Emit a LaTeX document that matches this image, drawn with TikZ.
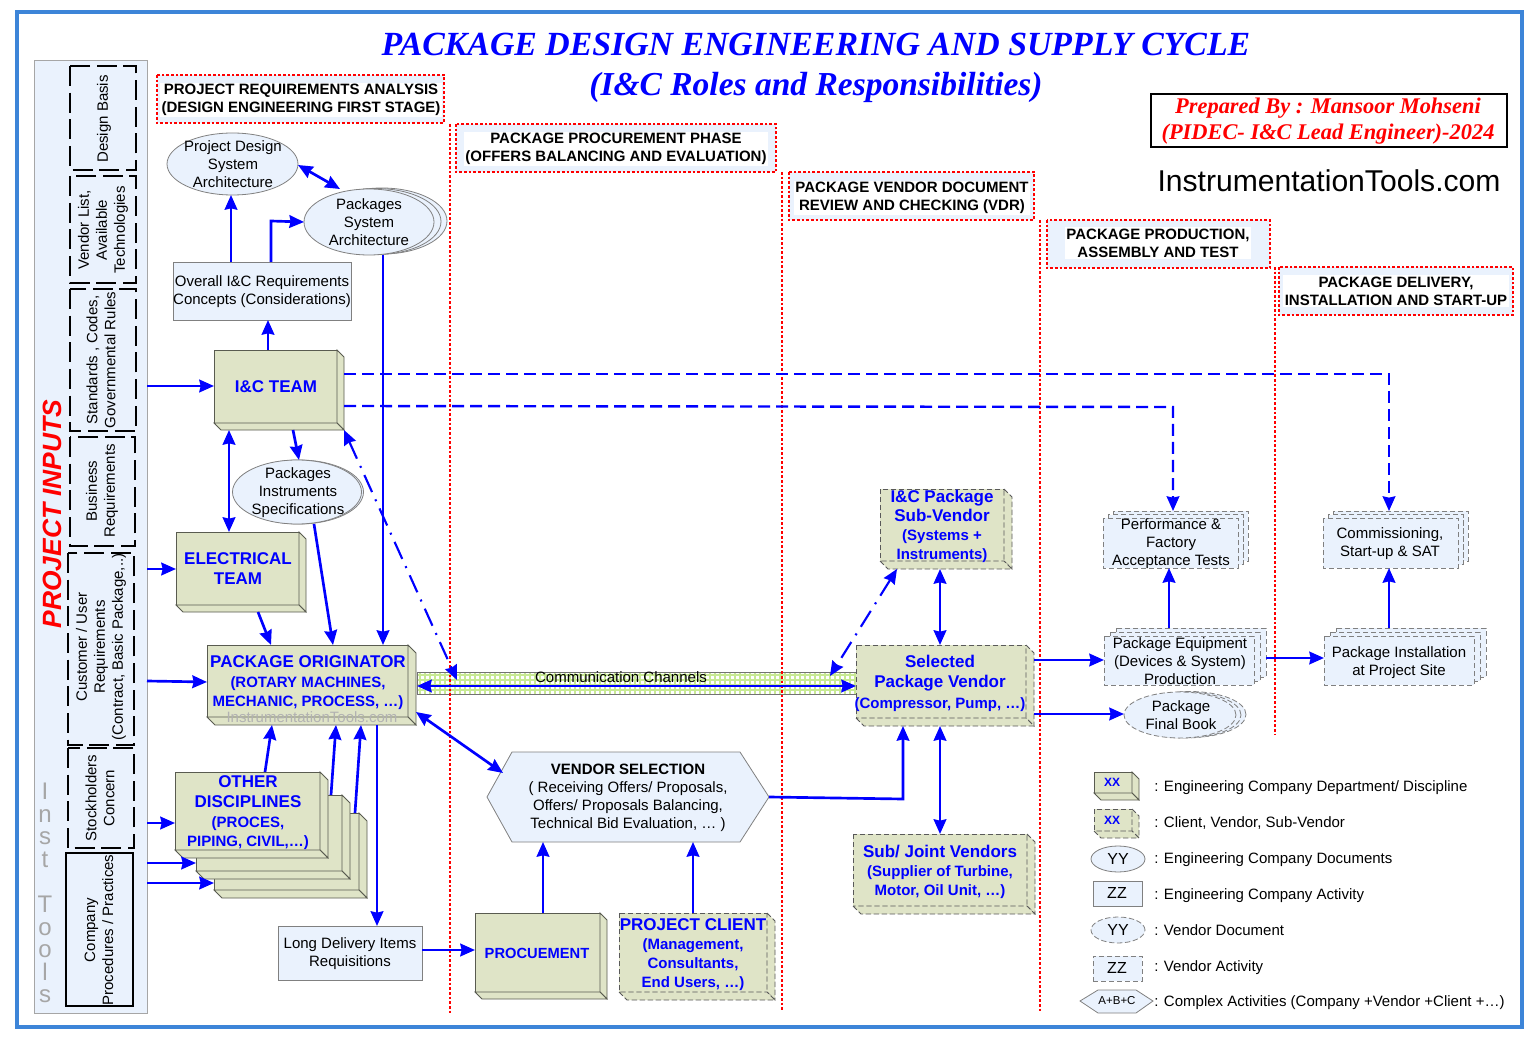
\documentclass[tikz,border=0pt]{standalone}
\usepackage{fontspec}
\setmainfont{Liberation Sans}
\newfontfamily\serifbi{Liberation Serif}
\usetikzlibrary{arrows.meta,shapes.geometric,calc}
\definecolor{pale}{HTML}{EAF2FD}
\definecolor{olive}{HTML}{DFE4C7}
\definecolor{frame}{HTML}{3D85D8}
\definecolor{bl}{HTML}{0000FF}
\definecolor{grn}{HTML}{C8E994}
\newcommand\fz[2]{\fontsize{\fpeval{#1*.75}}{\fpeval{#2*.75}}\selectfont}
\tikzset{
 x=0.75pt,y=-0.75pt,
 arr/.style={draw=bl,line width=2pt,-{Stealth[length=11pt,width=9.5pt,inset=1pt]}},
 arrb/.style={draw=bl,line width=2pt,{Stealth[length=11pt,width=9.5pt,inset=1pt]}-{Stealth[length=11pt,width=9.5pt,inset=1pt]}},
 dashblue/.style={arr,line width=1.8pt,dash pattern=on 9pt off 4.5pt},
 dashdot/.style={arrb,line width=1.6pt,dash pattern=on 14pt off 6pt on 1.5pt off 6pt},
 redline/.style={draw=red,line width=1.5pt,dash pattern=on 2pt off 1.5pt},
 blackdash/.style={draw=black,line width=1.4pt,dash pattern=on 15pt off 5pt},
 co/.style={draw=black!60!olive,fill=olive,line width=.6pt},
 cv/.style={draw=black!65,fill=olive,line width=.6pt,dash pattern=on 4pt off 2pt},
 pe/.style={draw=black!50,fill=pale,line width=.6pt},
 pv/.style={pe,dash pattern=on 4pt off 2pt},
 t/.style={align=center,inner sep=0,font=\fz{15}{18}},
 tb/.style={align=center,inner sep=0,font=\fz{15}{18}\bfseries},
 tblue/.style={align=center,inner sep=0,text=bl,font=\bfseries},
 shp/.style={inner sep=0,outer sep=0},
 vt/.style={t,rotate=90},
}
% name, style, x1, y1, x2, y2, depth
\newcommand\cubebox[7]{%
 \draw[#2] (#3,#4) rectangle (#5,#6);
 \draw[#2] (#5,#4) -- ++(#7,#7) -- ($(#5,#6)+(#7,#7)$) -- (#5,#6) -- cycle;
 \draw[#2] (#3,#6) -- ++(#7,#7) -- ($(#5,#6)+(#7,#7)$) -- (#5,#6) -- cycle;
 \node[shp,anchor=north west,minimum width={(#5-#3+#7)*.75pt},minimum height={(#6-#4+#7)*.75pt}] (#1) at (#3,#4) {};
}
% name, style, x1, y1, x2, y2, dx, dy (offset of the middle sheet)
\newcommand\stackbox[8]{%
 \draw[#2,shift={(2*#7,-2*#8)}] (#3,#4) rectangle (#5,#6);
 \draw[#2,shift={(#7,-#8)}] (#3,#4) rectangle (#5,#6);
 \draw[#2] (#3,#4) rectangle (#5,#6);
 \node[shp,anchor=south west,minimum width={(#5-#3+2*#7)*.75pt},minimum height={(#6-#4+2*#8)*.75pt}] (#1) at (#3,#6) {};
}
\newcommand\stage[8]{%
 \draw[redline,fill=pale] (#2,#3) rectangle (#4,#5);
 \node[tb,fill=white,inner xsep=1pt,inner ysep=1pt] (#1) at (#6,#7) {#8};
}
\begin{document}
\begin{tikzpicture}
\useasboundingbox (0,0) rectangle (1536,1041);
\fill[white] (0,0) rectangle (1536,1041);
\node[shp,draw=frame,line width=3pt,anchor=north west,minimum width=1128.75pt,minimum height=761.25pt] (frm) at (17,12) {};

% titles
\node[inner sep=0,text=bl,font=\serifbi\fz{33.8}{40}\bfseries\itshape] (ttl1) at (816,44) {PACKAGE DESIGN ENGINEERING AND SUPPLY CYCLE};
\node[inner sep=0,text=bl,font=\serifbi\fz{33.5}{40}\bfseries\itshape] (ttl2) at (816,87) {(I\&C Roles and Responsibilities)};
\node[shp,draw=black,line width=1.4pt,anchor=north west,minimum width=267pt,minimum height=39.75pt] (prep) at (1151,94) {};
\node[inner sep=0,align=center,text=red,font=\serifbi\fz{22.4}{26}\bfseries\itshape] (prept) at (1328,121) {Prepared By : Mansoor Mohseni\\(PIDEC- I\&C Lead Engineer)-2024};
\node[inner sep=0,font=\fz{30.1}{36}] (site) at (1329,181) {InstrumentationTools.com};

% left panel
\node[shp,draw=black!35,fill=pale,line width=.7pt,anchor=north west,minimum width=84.75pt,minimum height=714.75pt] (inp) at (34,60) {};
\node[inner sep=0,rotate=90,text=red,font=\fz{26.4}{32}\bfseries\itshape] (pinp) at (52,514) {PROJECT INPUTS};
\node[inner sep=0,align=center,text=black!35,font=\fz{24}{22.6}] (inst) at (45,893) {I\\n\\s\\t\\ \\T\\o\\o\\l\\s};
\draw[blackdash] (70,66) rectangle (136,170);
\node[vt] (ib1) at (104,119) {Design Basis};
\draw[blackdash] (70,176) rectangle (136,283);
\node[vt] (ib2) at (103,230) {Vendor List,\\Available\\Technologies};
\draw[blackdash] (70,289) rectangle (136,431);
\node[vt] (ib3) at (101,360) {Standards , Codes,\\Governmental Rules};
\draw[blackdash] (70,437) rectangle (135,546);
\node[vt] (ib4) at (102,491) {Business\\Requirements};
\draw[blackdash] (68,553) rectangle (134,745);
\node[vt] (ib5) at (101,647) {Customer / User\\Requirements\\(Contract, Basic Package,..)};
\draw[blackdash] (68,748) rectangle (134,848);
\node[vt] (ib6) at (100,798) {Stockholders\\Concern};
\draw[draw=black,line width=1.4pt] (66,853) rectangle (133,1006);
\node[vt] (ib7) at (99,930) {Company\\Procedures / Practices};

% phase separators
\coordinate (s1a) at (450,124); \coordinate (s1b) at (450,1013);
\coordinate (s2a) at (782,172); \coordinate (s2b) at (782,1010);
\coordinate (s3a) at (1040,220); \coordinate (s3b) at (1040,1012);
\coordinate (s4a) at (1275,267); \coordinate (s4b) at (1275,735);

% communication channel
\node[shp,anchor=north west,minimum width=329.25pt,minimum height=16.5pt] (comm) at (417,672) {};
\draw[grn,line width=.8pt,step=3.75pt] (417,672) grid (856,694);
\draw[black!55,line width=.6pt] (417,672) rectangle (856,694);
\node[t,font=\fz{15}{18}] (commt) at (621,677) {Communication Channels};

\draw[redline] (s1a) -- (s1b);
\draw[redline] (s2a) -- (s2b);
\draw[redline] (s3a) -- (s3b);
\draw[redline] (s4a) -- (s4b);

\stage{st1}{157}{75}{444}{123}{301}{100}{PROJECT REQUIREMENTS ANALYSIS\\(DESIGN ENGINEERING FIRST STAGE)}
\stage{st2}{456}{124}{776}{172}{616}{149}{PACKAGE PROCUREMENT PHASE\\(OFFERS BALANCING AND EVALUATION)}
\stage{st3}{789}{172}{1034}{220}{912}{198}{PACKAGE VENDOR DOCUMENT\\REVIEW AND CHECKING (VDR)}
\stage{st4}{1047}{220}{1270}{268}{1158}{243}{PACKAGE PRODUCTION,\\ASSEMBLY AND TEST}
\stage{st5}{1279}{267}{1513}{315}{1396}{291}{PACKAGE DELIVERY,\\INSTALLATION AND START-UP}

% documents
\node[shp,ellipse,pe,minimum width=98.25pt,minimum height=46.5pt] (pds) at (232.5,164) {};
\node[t] (pdst) at (233,164) {Project Design\\System\\Architecture};
\node[shp,ellipse,pe,minimum width=97.5pt,minimum height=49.5pt] (psa3) at (382,221) {};
\node[shp,ellipse,pe,minimum width=97.5pt,minimum height=49.5pt] (psa2) at (376,221.5) {};
\node[shp,ellipse,pe,minimum width=97.5pt,minimum height=49.5pt] (psa) at (369,222) {};
\node[t] (psat) at (369,222) {Packages\\System\\Architecture};
\node[shp,ellipse,pe,minimum width=96.75pt,minimum height=48pt] (pis2) at (299,492) {};
\node[shp,ellipse,pe,minimum width=96.75pt,minimum height=48pt] (pis) at (297,492) {};
\node[t] (pist) at (298,493) {Packages\\Instruments\\Specifications};
\node[shp,pe,draw,anchor=north west,minimum width=133.5pt,minimum height=43.5pt] (ovr) at (173,262) {};
\node[t] (ovrt) at (262,292) {Overall I\&C Requirements\\Concepts (Considerations)};
\node[shp,pe,draw,anchor=north west,minimum width=108pt,minimum height=40.5pt] (ldi) at (278,926) {};
\node[t] (ldit) at (350,954) {Long Delivery Items\\Requisitions};

% company cubes
\cubebox{ict}{co}{214}{350}{337}{423}{7}
\node[tblue,font=\fz{17}{20}\bfseries] (ictt) at (276,387) {I\&C TEAM};
\cubebox{ele}{co}{176}{532}{299}{605}{7}
\node[tblue,font=\fz{17}{20}\bfseries] (elet) at (238,569) {ELECTRICAL\\TEAM};
\cubebox{oth3}{co}{214}{813}{359}{890}{8}
\cubebox{oth2}{co}{196}{795}{342}{871}{8}
\cubebox{oth}{co}{175}{772}{320}{850}{8}
\node[tblue,font=\fz{15}{19.7}\bfseries] (otht) at (248,813) {\fz{17}{20}OTHER\\\fz{17}{20}DISCIPLINES\\(PROCES,\\PIPING, CIVIL,\dots)};
\cubebox{org}{co}{207}{645}{408}{717}{8}
\node[tblue,font=\fz{15}{19.5}\bfseries] (orgt) at (308,683) {\fz{17}{19}PACKAGE ORIGINATOR\\(ROTARY MACHINES,\\MECHANIC, PROCESS, \dots)};
\node[inner sep=0,text=black!30,font=\fz{15}{18}] (wm) at (312,717) {InstrumentationTools.com};
\cubebox{pro}{co}{475}{913}{600}{992}{7}
\node[tblue,font=\fz{14.7}{20}\bfseries] (prot) at (537,953) {PROCUEMENT};

% vendor cubes
\cubebox{cli}{cv}{619}{913}{767}{992}{8}
\node[tblue,font=\fz{15}{19}\bfseries] (clit) at (693,955) {\fz{17}{20}PROJECT CLIENT\\(Management,\\Consultants,\\End Users, \dots)};
\cubebox{ven}{cv}{856}{645}{1026}{718}{8}
\node[tblue,font=\fz{15}{20.5}\bfseries] (vent) at (940,683) {\fz{17}{20}Selected\\\fz{17}{20}Package Vendor\\(Compressor, Pump, \dots)};
\cubebox{sbv}{cv}{880}{489}{1004}{561}{8}
\node[tblue,font=\fz{15}{19}\bfseries] (sbvt) at (942,526) {\fz{17}{20}I\&C Package\\\fz{17}{20}Sub-Vendor\\(Systems +\\Instruments)};
\cubebox{sjv}{cv}{853}{834}{1027}{906}{8}
\node[tblue,font=\fz{15}{19}\bfseries] (sjvt) at (940,872) {\fz{17}{20}Sub/ Joint Vendors\\(Supplier of Turbine,\\Motor, Oil Unit, \dots)};

% vendor activities
\stackbox{prf}{pv}{1103}{518}{1238}{568}{5}{3.5}
\node[t] (prft) at (1171,544) {Performance \&\\Factory\\Acceptance Tests};
\stackbox{cms}{pv}{1323}{518}{1458}{568}{5}{3.5}
\node[t] (cmst) at (1390,544) {Commissioning,\\Start-up \& SAT};
\stackbox{peq}{pv}{1104}{636}{1254}{685}{6}{4}
\node[t] (peqt) at (1180,661) {Package Equipment\\(Devices \& System)\\Production};
\stackbox{pin}{pv}{1324}{636}{1474}{685}{6}{4}
\node[t] (pint) at (1399,663) {Package Installation\\at Project Site};
\node[shp,ellipse,pv,minimum width=84pt,minimum height=34.5pt] (fb3) at (1190,714.5) {};
\node[shp,ellipse,pv,minimum width=84pt,minimum height=34.5pt] (fb2) at (1185,715) {};
\node[shp,ellipse,pv,minimum width=84pt,minimum height=34.5pt] (fb) at (1180,715) {};
\node[t] (fbt) at (1181,715) {Package\\Final Book};

% vendor selection
\node[shp,minimum width=211.5pt,minimum height=67.5pt] (vs) at (628,797) {};
\draw[pe] (vs.west) -- (512,752) -- (740,752) -- (vs.east) -- (740,842) -- (512,842) -- cycle;
\node[t] (vst) at (628,798) {\textbf{VENDOR SELECTION}\\( Receiving Offers/ Proposals,\\Offers/ Proposals Balancing,\\Technical Bid Evaluation, \dots\ )};

% connectors
\draw[arr] (ovr.north -| 231,0) -- (pds.south -| 231,0);
\draw[arr] (ovr.north -| 271,0) -- (271,221) -- (psa.west);
\draw[arrb] (pds.east) ++(0,1) -- (psa.north -| 340,0);
\draw[arr] (ict.north -| 268,0) -- (ovr.south -| 268,0);
\draw[arr] (inp.east |- 0,386) -- (ict.west |- 0,386);
\draw[arrb] (ict.south -| 229,0) -- (ele.north -| 229,0);
\draw[arr] (ict.south -| 293,0) -- (pis.north -| 299,0);
\draw[arr] (psa.south -| 383,0) -- (org.north -| 383,0);
\draw[dashblue] (ict.east |- 0,374) -- (1389,374) -- (cms.north -| 1389,0);
\draw[dashblue] (ict.east |- 0,406) -- (1173,407) -- (prf.north -| 1173,0);
\draw[dashdot] (ict.south east) -- (457,680);
\draw[arr] (pis.south -| 314,0) -- (org.north -| 333,0);
\draw[arr] (ele.south -| 258,0) -- (org.north -| 271,0);
\draw[arr] (inp.east |- 0,569) -- (ele.west |- 0,569);
\draw[arr] (inp.east |- 0,681) -- (org.west |- 0,682);
\draw[arr] (inp.east |- 0,823) -- (oth.west |- 0,823);
\draw[arr] (inp.east |- 0,863) -- (oth2.west |- 0,863);
\draw[arr] (inp.east |- 0,883) -- (oth3.west |- 0,883);
\draw[arr] (oth.north -| 265,0) -- (org.south -| 272,0);
\draw[arr] (oth2.north -| 331,0) -- (org.south -| 336,0);
\draw[arr] (oth3.north -| 355,0) -- (org.south -| 361,0);
\draw[arr] (org.south -| 377,0) -- (ldi.north -| 377,0);
\draw[arr] (ldi.east |- 0,950) -- (pro.west |- 0,950);
\draw[arrb] (org.east |- 0,712) -- (503,773);
\draw[arr] (pro.north -| 543,0) -- (vs.south -| 543,0);
\draw[arr] (cli.north -| 693,0) -- (vs.south -| 693,0);
\draw[arr] (vs.east) -- (903,799) -- (ven.south -| 903,0);
\draw[arrb] (ven.south -| 940,0) -- (sjv.north -| 940,0);
\draw[arrb] (sbv.south -| 940,0) -- (ven.north -| 940,0);
\draw[dashdot] (sbv.south -| 897,0) -- (830,676);
\draw[arrb] (comm.west |- 0,686) -- (comm.east |- 0,686);
\draw[arr] (ven.east |- 0,660) -- (peq.west |- 0,660);
\draw[arr] (ven.east |- 0,714) -- (fb.west |- 0,714);
\draw[arr] (peq.north -| 1169,0) -- (prf.south -| 1169,0);
\draw[arr] (peq.east |- 0,658) -- (pin.west |- 0,658);
\draw[arr] (pin.north -| 1389,0) -- (cms.south -| 1389,0);

% legend
\cubebox{lg1}{co}{1094}{772}{1132}{793}{7}
\node[tblue,font=\fz{12}{14}\bfseries] (lg1t) at (1112,782) {XX};
\cubebox{lg2}{cv}{1094}{809}{1132}{831}{7}
\node[tblue,font=\fz{12}{14}\bfseries] (lg2t) at (1112,820) {XX};
\node[shp,ellipse,pe,minimum width=40.5pt,minimum height=19.5pt] (lg3) at (1118,859) {};
\node[t,font=\fz{16}{18}] (lg3t) at (1118,859) {YY};
\node[shp,pe,draw,minimum width=36.75pt,minimum height=18.75pt] (lg4) at (1117.5,893.5) {};
\node[t,font=\fz{16}{18}] (lg4t) at (1117,893) {ZZ};
\node[shp,ellipse,pv,minimum width=40.5pt,minimum height=19.5pt] (lg5) at (1118,930) {};
\node[t,font=\fz{16}{18}] (lg5t) at (1118,930) {YY};
\node[shp,pv,draw,minimum width=36.75pt,minimum height=18.75pt] (lg6) at (1117.5,968.5) {};
\node[t,font=\fz{16}{18}] (lg6t) at (1117,968) {ZZ};
\draw[pe] (1080,1001) -- (1098,990) -- (1136,990) -- (1153,1001) -- (1136,1013) -- (1098,1013) -- cycle;
\node[t,font=\fz{11.5}{14}] (lg7t) at (1117,1001) {A+B+C};
\foreach \n/\yy/\s in {a/791/: Engineering Company Department\slash{} Discipline,
 b/827/{: Client, Vendor, Sub-Vendor},
 c/863/: Engineering Company Documents,
 d/899/: Engineering Company Activity,
 e/935/: Vendor Document,
 f/971/: Vendor Activity,
 g/1006/: Complex Activities (Company +Vendor +Client +\dots)}{
 \node[t,anchor=base west,align=left] (lgl\n) at (1154,\yy) {\s};
}
\end{tikzpicture}
\end{document}
